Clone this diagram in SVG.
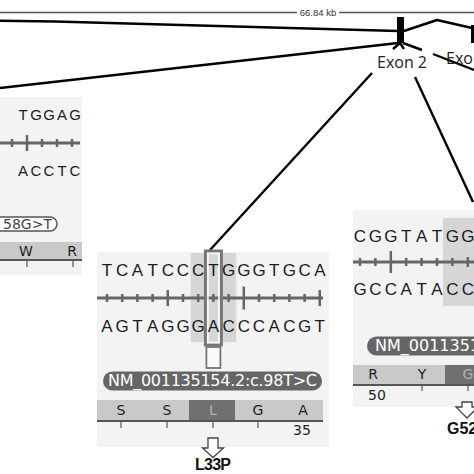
<svg xmlns="http://www.w3.org/2000/svg" width="474" height="474" viewBox="0 0 474 474">
<style>
.bg{fill:#f3f3f3}
.hl{fill:#d6d6d6}
.seq{font-family:"Liberation Sans",Arial,sans-serif;font-size:17px;fill:#1c1c1c;text-anchor:middle}
.seqs{font-family:"Liberation Sans",Arial,sans-serif;font-size:15px;fill:#1c1c1c;text-anchor:middle}
.rul{stroke:#666;stroke-width:3;fill:none}
.tick{stroke:#666;stroke-width:2.5;fill:none}
.aa{font-family:"DejaVu Sans",Verdana,sans-serif;font-size:14px;fill:#222;text-anchor:middle}
.pill{fill:#666}
.pilltxt{font-family:"DejaVu Sans",Verdana,sans-serif;font-size:16px;fill:#fff}
.bar{fill:#c9c9c9}
.dark{fill:#707070}
.gene{stroke:#000;stroke-width:2.6;fill:none;stroke-linejoin:round}
.conn{stroke:#000;stroke-width:2.4;fill:none}
.mut{font-family:"Liberation Sans",Arial,sans-serif;font-size:16px;font-weight:bold;fill:#111}
.arrow{fill:#fff;stroke:#444;stroke-width:1.3}
</style>
<rect width="474" height="474" fill="#fff"/>
<g id="scale">
<path d="M0 12.5H297M339 12.5H474" stroke="#555" stroke-width="1.4"/>
<text x="318" y="15.5" font-family="Liberation Sans,Arial,sans-serif" font-size="9.5" fill="#333" text-anchor="middle">66.84 kb</text>
</g>
<g id="gene">
<path class="gene" d="M0 20.7L55 21.5L398 31M404 31L437 20L472 28"/>
</g>
<g id="exon2">
<rect x="397" y="17" width="7" height="26" fill="#000"/>
<text x="402" y="68" font-family="Open Sans,sans-serif" font-size="16" fill="#222" text-anchor="middle">Exon 2</text>
</g>
<g id="exon3">
<rect x="471" y="25" width="6" height="18" fill="#000"/>
<text x="446" y="64" font-family="Open Sans,sans-serif" font-size="16" fill="#222">Exo</text>
</g>
<g id="connectors">
<path class="conn" d="M0 88L398 43"/>
<path class="conn" stroke-width="1.8" d="M400 43L393 49M400 43L404 49M403 43L422 50"/>
<path class="conn" d="M433 54L474 70"/>
<path class="conn" d="M372 73L210 250"/>
<path class="conn" d="M415 77L473 202"/>
</g>
<g id="panel-left">
<rect class="bg" x="0" y="97" width="82" height="178"/>
<text class="seqs" x="23 36 49 62 75" y="120">TGGAG</text>
<path class="rul" d="M0 143H80"/>
<path class="tick" d="M12 139V147M27 135V151M42 139V147M57 139V147M72 139V147"/>
<text class="seqs" x="23 36 49 62 75" y="176">ACCTC</text>
<rect x="-10" y="217" width="67" height="14" rx="7" fill="#fff" stroke="#555" stroke-width="1.5"/>
<text x="3" y="229" font-family="DejaVu Sans,Verdana,sans-serif" font-size="14" fill="#444">58G&gt;T</text>
<rect class="bar" x="0" y="242" width="82" height="17"/>
<path d="M0 260H82" stroke="#555" stroke-width="2"/>
<path d="M27 260V267M73 260V267" stroke="#555" stroke-width="1.2"/>
<text class="aa" x="26" y="256">W</text>
<text class="aa" x="72" y="256">R</text>
</g>
<g id="panel-middle">
<rect class="bg" x="97" y="252" width="232" height="195"/>
<rect class="hl" x="190.6" y="253" width="45.6" height="89"/>
<path class="rul" d="M97 298H323"/>
<path class="tick" d="M107 294V302M122.2 294V302M137.4 294V302M152.6 294V302M167.8 290V306M183 294V302M198.2 294V302M213.4 294V302M228.6 294V302M243.8 286.5V309.5M259 294V302M274.2 294V302M289.4 294V302M304.6 294V302M319.8 290V306"/>
<rect x="205.4" y="251" width="16" height="94" fill="none" stroke="#777" stroke-width="3"/>
<rect x="207.9" y="253.5" width="11" height="89" fill="none" stroke="#fff" stroke-width="1.5"/>
<rect x="206.4" y="347" width="14" height="21" fill="#fafafa" stroke="#777" stroke-width="1.8"/>
<text class="seq" x="107 122.2 137.4 152.6 167.8 183 198.2 213.4 228.6 243.8 259 274.2 289.4 304.6 319.8" y="276">TCATCCCTGGGTGCA</text>
<text class="seq" x="107 122.2 137.4 152.6 167.8 183 198.2 213.4 228.6 243.8 259 274.2 289.4 304.6 319.8" y="332">AGTAGGGACCCACGT</text>
<rect class="pill" x="103" y="371.5" width="219" height="19" rx="9.5"/>
<text class="pilltxt" x="108" y="386" textLength="209">NM_001135154.2:c.98T&gt;C</text>
<rect class="bar" x="97" y="400" width="226" height="20"/>
<rect class="dark" x="189" y="400" width="46" height="20"/>
<path d="M97 421H323" stroke="#555" stroke-width="2"/>
<path d="M121 421V428M167 421V428M213 421V428M258 421V428" stroke="#555" stroke-width="1.2"/>
<text class="aa" x="121" y="415">S</text>
<text class="aa" x="167" y="415">S</text>
<text class="aa" x="213" y="415" style="fill:#b0b0b0">L</text>
<text class="aa" x="258" y="415">G</text>
<text class="aa" x="303" y="415">A</text>
<text class="aa" x="302" y="435">35</text>
<path class="arrow" d="M208 438H218V448H223.5L213 457.5L202.5 448H208Z"/>
<text class="mut" x="213" y="470" text-anchor="middle" textLength="36">L33P</text>
</g>
<g id="panel-right">
<rect class="bg" x="353" y="210" width="121" height="197"/>
<rect class="hl" x="443" y="218" width="31" height="88"/>
<path class="rul" d="M353 262H474"/>
<path class="tick" d="M360 258V266M375.4 258V266M390.8 251V273M406.2 258V266M421.6 258V266M437 258V266M452.4 258V266M467.8 257V267"/>
<text class="seq" x="360 375.4 390.8 406.2 421.6 437 452.4 467.8" y="242">CGGTATGG</text>
<text class="seq" x="360 375.4 390.8 406.2 421.6 437 452.4 467.8" y="295">GCCATACC</text>
<rect class="pill" x="367" y="336.5" width="130" height="19" rx="9.5"/>
<text class="pilltxt" x="375" y="351">NM_0011351</text>
<rect class="bar" x="353" y="365" width="121" height="19"/>
<rect class="dark" x="445" y="365" width="29" height="19"/>
<path d="M353 385H474" stroke="#555" stroke-width="2"/>
<path d="M422 385V391M468 385V391" stroke="#555" stroke-width="1.2"/>
<text class="aa" x="373" y="379">R</text>
<text class="aa" x="422" y="379">Y</text>
<text class="aa" x="468" y="379" style="fill:#b0b0b0">G</text>
<text class="aa" x="377" y="400">50</text>
<path class="arrow" d="M462 402H472V407H478L467 418L456 407H462Z"/>
<text class="mut" x="447" y="434">G52</text>
</g>
</svg>
